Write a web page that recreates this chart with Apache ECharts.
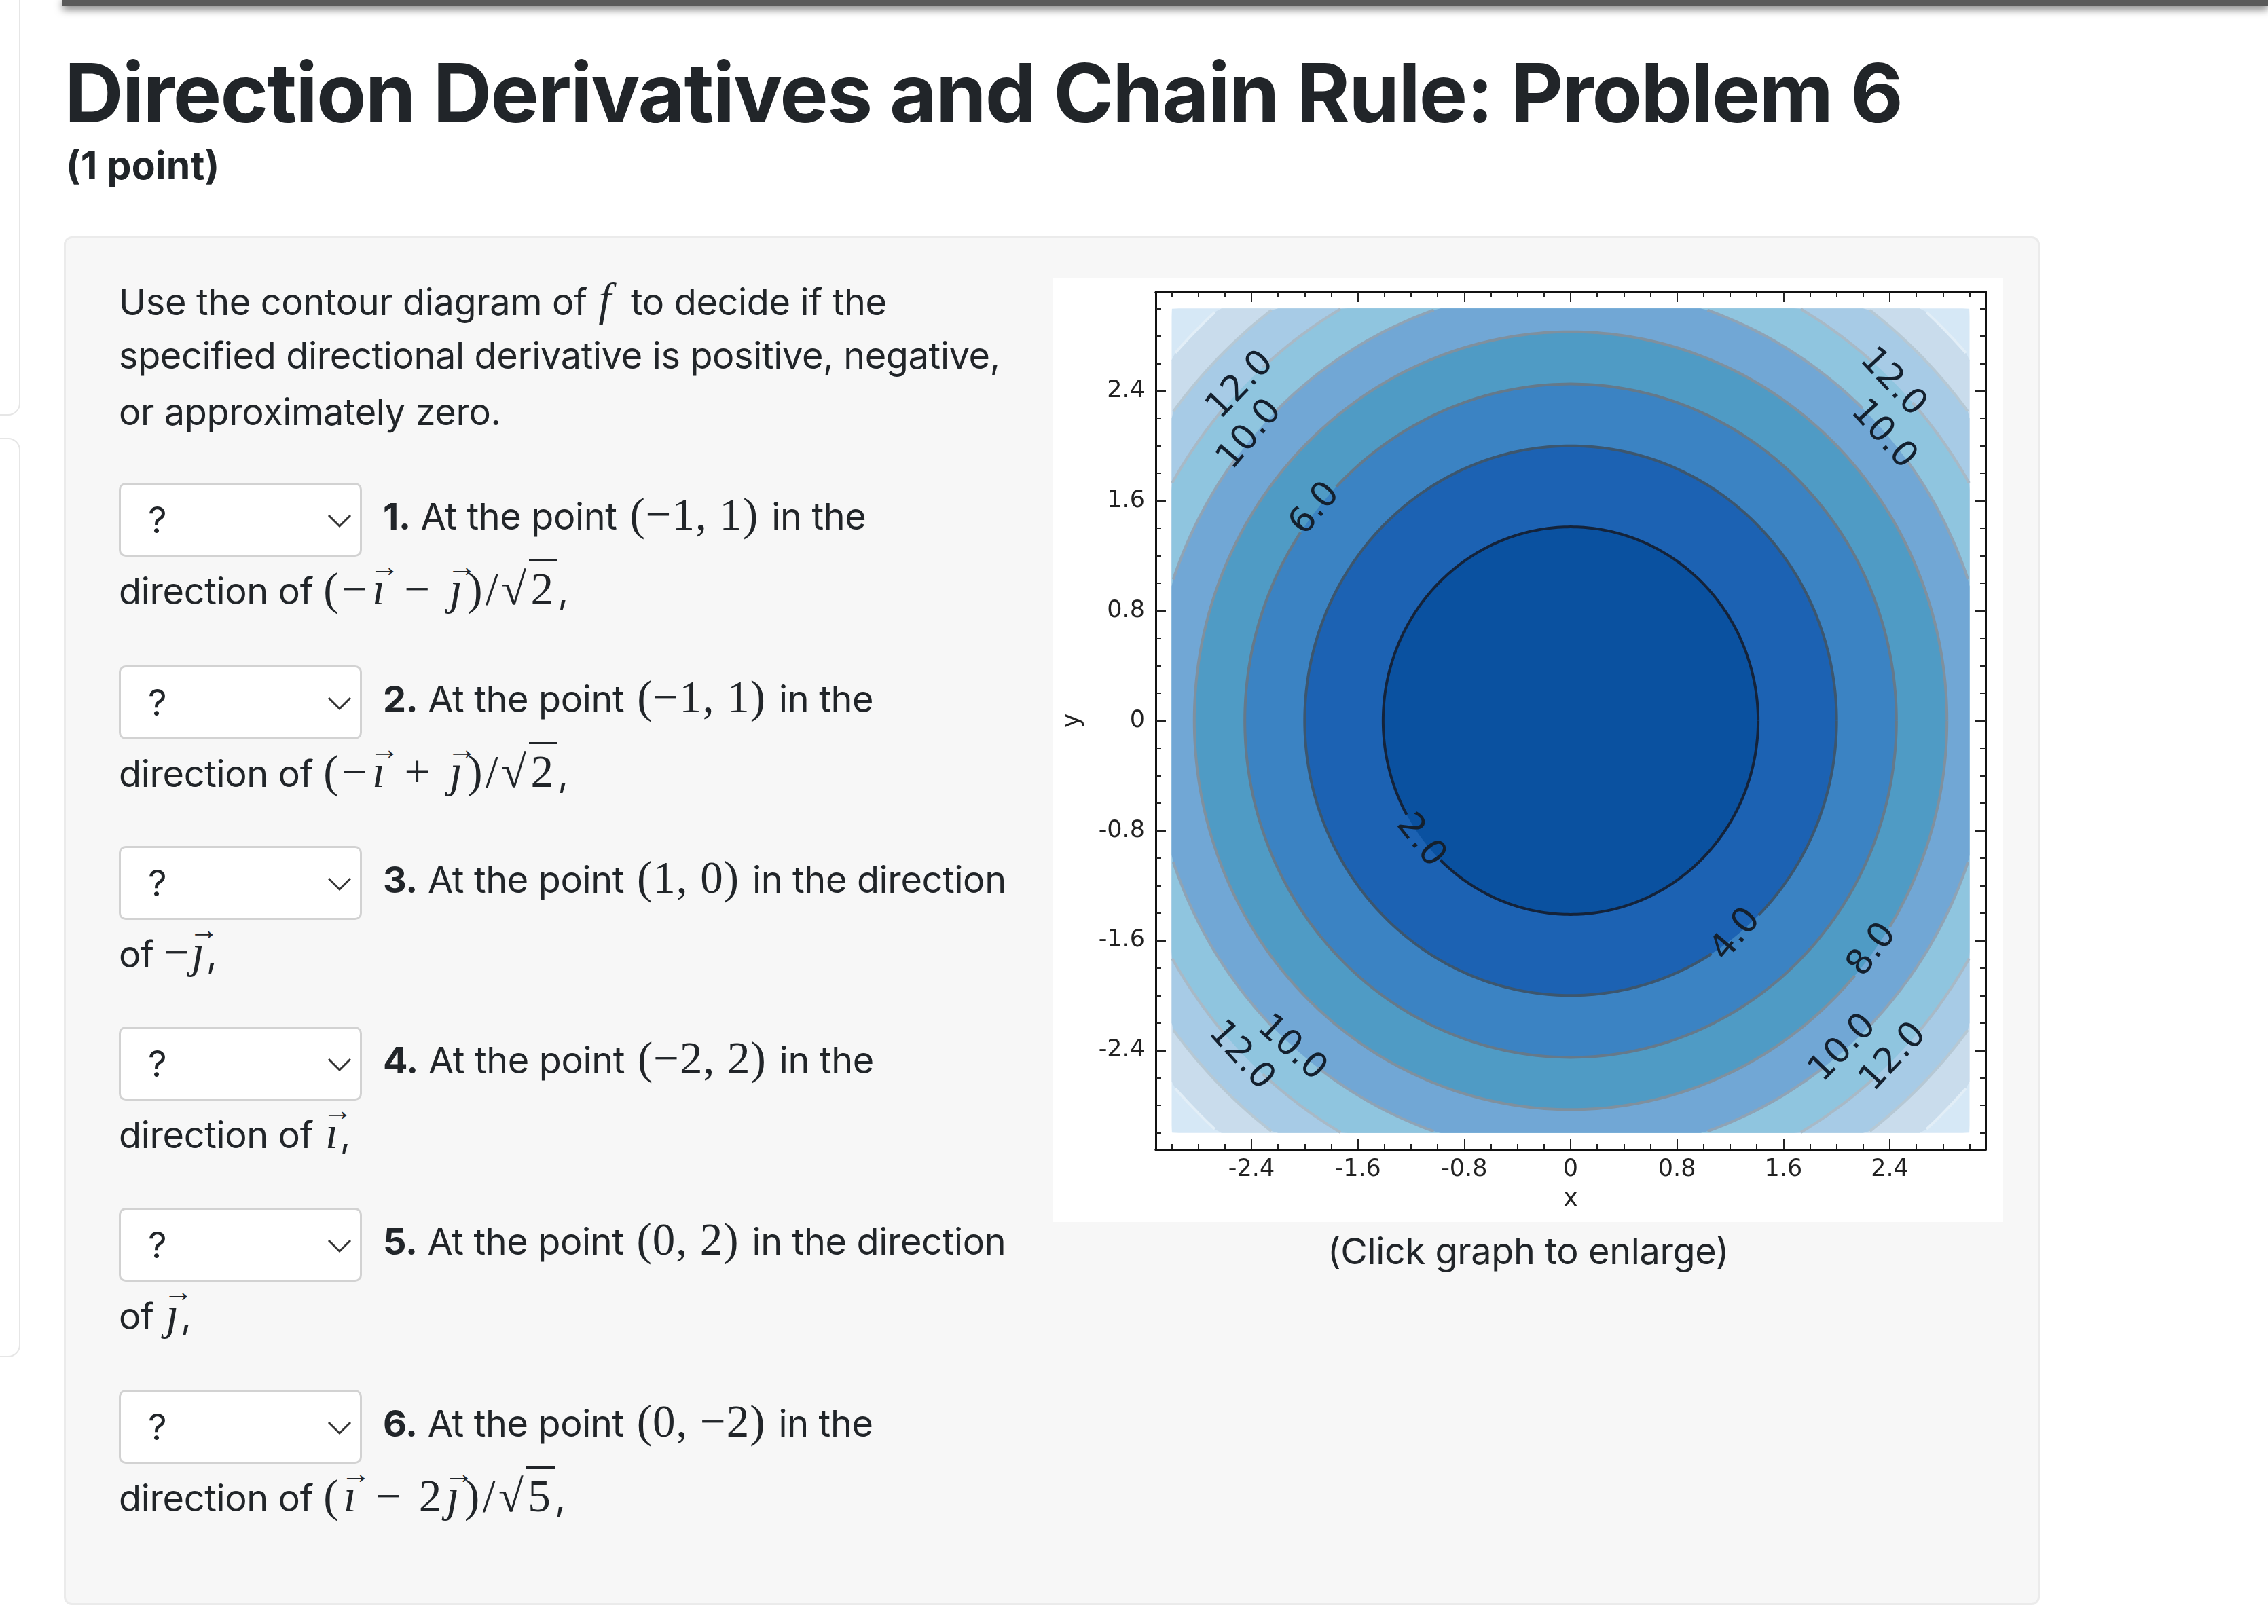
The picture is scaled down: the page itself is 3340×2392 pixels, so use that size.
<!DOCTYPE html>
<html>
<head>
<meta charset="utf-8">
<title>Direction Derivatives and Chain Rule: Problem 6</title>
<script src="https://cdn.jsdelivr.net/npm/echarts@6/dist/echarts.min.js"></script>
<style>
html, body { margin: 0; width: 3340px; height: 2392px; background: #fff; overflow: hidden; }
body { position: relative; font-family: Inter, "Noto Sans", sans-serif; color: #212529; }
.abs { position: absolute; white-space: nowrap; }
#topbar { left: 92px; right: 0; top: -4px; height: 13px; background: #5a5a5a; box-shadow: 0 5px 12px rgba(0,0,0,.5); }
.side { left: -20px; width: 46px; border: 2px solid #e6e6e6; border-radius: 18px; }
#title { left: 95px; top: 64px; font-size: 120px; line-height: 146px; font-weight: 700; letter-spacing: -1.8px; }
#points { left: 97px; top: 208px; font-size: 57px; line-height: 72px; font-weight: 700; letter-spacing: .3px; }
#panel { left: 94px; top: 348px; width: 2910px; height: 2016px; background: #f7f7f7; border: 3px solid #ebebeb; border-radius: 12px; box-sizing: border-box; }
.txt { left: 175px; font-size: 54px; line-height: 84px; letter-spacing: -.35px; }
.txt b { font-weight: 700; }
.sel { left: 175px; width: 358px; height: 109px; box-sizing: border-box; background: #fff; border: 3px solid #d2d2d2; border-radius: 10px; font-size: 54px; line-height: 103px; padding-left: 40px; }
.sel svg { position: absolute; left: 303px; top: 42px; }
.m { font-family: "Liberation Serif", "DejaVu Serif", serif; font-size: 67px; letter-spacing: 0; }
.m i { font-family: "Liberation Serif", "DejaVu Serif", serif; }
.f { margin: 0 14px 0 2px; }
.p { margin: 0 4px; letter-spacing: 1px; }
.w { letter-spacing: 4.5px; }
.vec { position: relative; display: inline-block; font-style: italic; margin: 0 3px; }
.vec::before { content: "\2192"; position: absolute; left: -4px; top: -32px; font-style: normal; font-size: 44px; }
.rt { border-top: 3px solid #212529; padding: 3px 2px 0 2px; }
#plot { left: 1551px; top: 409px; width: 1399px; height: 1391px; background: #fff; }
#caption { left: 1955px; top: 1801px; font-size: 54px; line-height: 84px; letter-spacing: -.35px; }
</style>
</head>
<body>
<div class="abs" id="topbar"></div>
<div class="abs side" style="top:-20px;height:628px"></div>
<div class="abs side" style="top:645px;height:1350px"></div>
<div class="abs" id="title">Direction Derivatives and Chain Rule: Problem 6</div>
<div class="abs" id="points">(1 point)</div>
<div class="abs" id="panel"></div>
<div class="abs txt" style="top:399px">Use the contour diagram of <span class="m f"><i>f</i></span> to decide if the</div>
<div class="abs txt" style="top:482px">specified directional derivative is positive, negative,</div>
<div class="abs txt" style="top:565px">or approximately zero.</div>
<div id="rows"></div>
<div class="abs" id="plot"></div>
<div class="abs" id="caption">(Click graph to enlarge)</div>

<script>
// Contour levels of f, outermost band first, and their radii.
const bandLevels = [18, 16, 14, 12, 10, 8, 6, 4, 2];
const bandRadii = [4.24, 4.0, 3.74, 3.46, 3.16, 2.83, 2.45, 2.0, 1.41];
const bandColors = ["#d6e8f6", "#c9dcec", "#a7cbe6", "#8fc5df", "#71a7d5", "#4f9bc5", "#3b83c3", "#1c62b3", "#0a51a0"];
const lineColors = ["#d6e8f6", "#e2eef7", "#b6c8d4", "#a8b9c6", "#8fa3b5", "#7f909e", "#65798a", "#3c566e", "#14233a"];
const fillLimit = 3;

// Contour labels: text, x, y and rotation in degrees.
const labelTexts = ["12.0", "10.0", "6.0", "12.0", "10.0", "2.0", "4.0", "8.0", "10.0", "12.0", "10.0", "12.0"];
const labelX = [-2.48, -2.41, -1.92, 2.42, 2.35, -1.13, 1.245, 2.27, -2.10, -2.48, 2.05, 2.43];
const labelY = [2.44, 2.08, 1.54, 2.46, 2.08, -0.875, -1.56, -1.67, -2.385, -2.44, -2.385, -2.45];
const labelAngles = [46, 50, 50, -47, -48, -52, 50, 52, -42, -48, 46, 47];

// Axis ticks.
const axisLimit = 3.12;
const majorTicks = [-2.4, -1.6, -0.8, 0, 0.8, 1.6, 2.4];
const minorTicks = [-3, -2.8, -2.6, -2.2, -2, -1.8, -1.4, -1.2, -1, -0.6, -0.4, -0.2, 0.2, 0.4, 0.6, 1, 1.2, 1.4, 1.8, 2, 2.2, 2.6, 2.8, 3];
const xTickLabels = ["-2.4", "-1.6", "-0.8", "0", "0.8", "1.6", "2.4"];

// Question list: select box top, first and second line.
const rowTops = [711, 980, 1246, 1512, 1779, 2047];
const rowFirst = [
    '<b>1.</b> At the point <span class="m p">(&minus;1, 1)</span> in the',
    '<b>2.</b> At the point <span class="m p">(&minus;1, 1)</span> in the',
    '<b>3.</b> At the point <span class="m p">(1, 0)</span> in the direction',
    '<b>4.</b> At the point <span class="m p">(&minus;2, 2)</span> in the',
    '<b>5.</b> At the point <span class="m p">(0, 2)</span> in the direction',
    '<b>6.</b> At the point <span class="m p">(0, &minus;2)</span> in the'
];
const vecI = '<span class="vec">&#305;</span>';
const vecJ = '<span class="vec">&#567;</span>';
const rowSecond = [
    `direction of <span class="m w">(&minus;${vecI} &minus; ${vecJ})/&radic;<span class="rt">2</span></span>,`,
    `direction of <span class="m w">(&minus;${vecI} + ${vecJ})/&radic;<span class="rt">2</span></span>,`,
    `of <span class="m">&minus;${vecJ}</span>,`,
    `direction of <span class="m">${vecI}</span>,`,
    `of <span class="m">${vecJ}</span>,`,
    `direction of <span class="m w">(${vecI} &minus; 2${vecJ})/&radic;<span class="rt">5</span></span>,`
];

// Write the question rows into the page.
function renderRows() {
    const chevron = '<svg width="38" height="22" viewBox="0 0 38 22"><path d="M3 3 L19 19 L35 3" fill="none" stroke="#333" stroke-width="3"/></svg>';
    document.getElementById("rows").innerHTML = rowTops.map((top, i) => `
        <div class="abs sel" style="top:${top}px">?${chevron}</div>
        <div class="abs txt" style="left:564px;top:${top + 4}px">${rowFirst[i]}</div>
        <div class="abs txt" style="top:${top + 114}px">${rowSecond[i]}</div>`).join("");
}

// Sample one contour as data points.
function circlePoints(radius) {
    const points = [];
    for (let deg = 0; deg < 360; deg += 1) {
        const a = deg * Math.PI / 180;
        points.push([radius * Math.cos(a), radius * Math.sin(a)]);
    }
    return points;
}

// Filled band, cut to the square where f was computed.
function renderBand(params, api) {
    const i = api.value(0);
    const points = circlePoints(bandRadii[i]).map(p => api.coord([
        Math.max(-fillLimit, Math.min(fillLimit, p[0])),
        Math.max(-fillLimit, Math.min(fillLimit, p[1]))
    ]));
    return { type: "polygon", shape: { points }, style: { fill: bandColors[i] } };
}

// Contour line with gaps at the square's edge and around its own labels.
function renderLine(params, api) {
    const i = api.value(0);
    const level = bandLevels[i].toFixed(1);
    const gaps = labelTexts.map((t, k) => t === level ? k : -1).filter(k => k >= 0);
    const segments = [];
    let current = [];
    const sampled = circlePoints(bandRadii[i]);
    const start = sampled.findIndex(p => Math.abs(p[0]) > fillLimit || Math.abs(p[1]) > fillLimit);
    const ordered = start > 0 ? sampled.slice(start).concat(sampled.slice(0, start)) : sampled.concat([sampled[0]]);
    for (const p of ordered) {
        const outside = Math.abs(p[0]) > fillLimit || Math.abs(p[1]) > fillLimit;
        const hidden = gaps.some(k => Math.hypot(p[0] - labelX[k], p[1] - labelY[k]) < 0.2);
        if (outside || hidden) {
            if (current.length > 1) segments.push(current);
            current = [];
        } else {
            current.push(api.coord(p));
        }
    }
    if (current.length > 1) segments.push(current);
    return {
        type: "group",
        children: segments.map(points => ({
            type: "polyline",
            shape: { points },
            style: { fill: null, stroke: lineColors[i], lineWidth: 4 }
        }))
    };
}

// Rotated contour label.
function renderLabel(params, api) {
    const i = api.value(0);
    const [x, y] = api.coord([labelX[i], labelY[i]]);
    return {
        type: "text",
        x,
        y,
        rotation: labelAngles[i] * Math.PI / 180,
        style: {
            text: labelTexts[i],
            fill: "#14202e",
            font: '52px "DejaVu Sans"',
            align: "center",
            verticalAlign: "middle"
        }
    };
}

// One axis side: major ticks with or without labels, or minor ticks.
function makeAxis(position, ticks, length, withLabels, name) {
    return {
        type: "value",
        position,
        min: -axisLimit,
        max: axisLimit,
        name: withLabels ? name : "",
        nameLocation: "middle",
        nameGap: position === "bottom" ? 56 : 105,
        nameTextStyle: { fontFamily: "DejaVu Sans", fontSize: 35, color: "#222" },
        axisLine: { show: true, onZero: false, lineStyle: { color: "#111", width: 3 } },
        axisTick: { show: true, inside: true, length, customValues: ticks, lineStyle: { color: "#222", width: 2 } },
        axisLabel: withLabels ? {
            show: true,
            customValues: ticks,
            margin: position === "bottom" ? 12 : 16,
            fontFamily: "DejaVu Sans",
            fontSize: 35,
            color: "#222",
            formatter: value => xTickLabels[majorTicks.indexOf(value)]
        } : { show: false },
        splitLine: { show: false }
    };
}

// Draw the contour plot.
function renderPlot() {
    const chart = echarts.init(document.getElementById("plot"));
    const bandData = bandRadii.map((r, i) => [i, r]);
    const labelData = labelTexts.map((t, i) => [i, labelX[i], labelY[i]]);
    chart.setOption({
        animation: false,
        backgroundColor: "#fff",
        grid: { left: 151, right: 26, top: 21, bottom: 107 },
        xAxis: [
            makeAxis("bottom", majorTicks, 15, true, "x"),
            makeAxis("bottom", minorTicks, 8, false),
            makeAxis("top", majorTicks, 15, false),
            makeAxis("top", minorTicks, 8, false)
        ],
        yAxis: [
            makeAxis("left", majorTicks, 15, true, "y"),
            makeAxis("left", minorTicks, 8, false),
            makeAxis("right", majorTicks, 15, false),
            makeAxis("right", minorTicks, 8, false)
        ],
        series: [
            { type: "custom", silent: true, renderItem: renderBand, data: bandData, clip: true },
            { type: "custom", silent: true, renderItem: renderLine, data: bandData, clip: true },
            { type: "custom", silent: true, renderItem: renderLabel, data: labelData, clip: true }
        ]
    });
}

renderRows();
renderPlot();
</script>
</body>
</html>
